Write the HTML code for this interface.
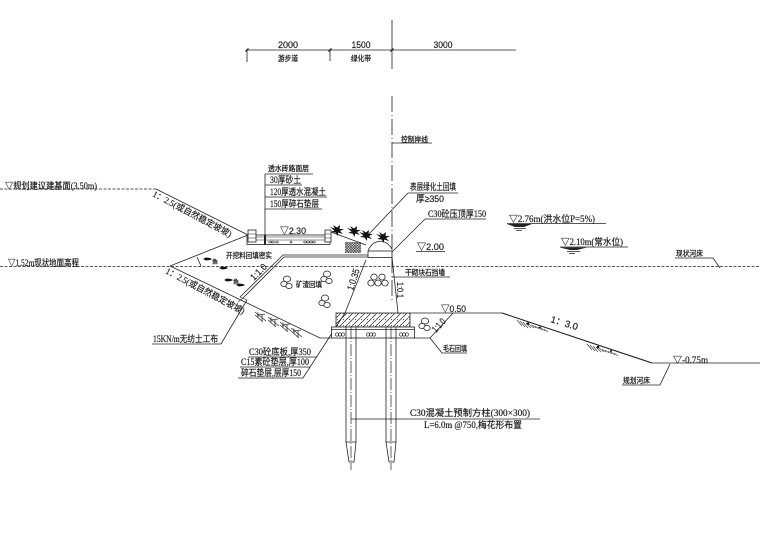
<!DOCTYPE html>
<html><head><meta charset="utf-8"><style>
html,body{margin:0;padding:0;background:#fff}
svg{display:block}
text{font-family:"Liberation Serif","Noto Sans CJK SC",serif;fill:#1a1a1a;font-size:9px;stroke:#1a1a1a;stroke-width:.18}
.c{font-size:7.5px;font-family:"Liberation Sans","Noto Sans CJK SC",sans-serif;stroke-width:.25}
.s{font-family:"Liberation Sans","Noto Sans CJK SC",sans-serif;font-size:9.5px}
</style></head><body>
<svg width="760" height="537" viewBox="0 0 760 537" xmlns="http://www.w3.org/2000/svg">
<defs>
<pattern id="h1" width="6" height="6" patternUnits="userSpaceOnUse"><path d="M0 6L6 0" stroke="#222" stroke-width=".7"/><circle cx="1.500" cy="1.500" r=".5" fill="#222"/></pattern>
<pattern id="h2" width="2.6" height="2.6" patternUnits="userSpaceOnUse"><path d="M0 2.6L2.6 0M0 0L2.6 2.6" stroke="#222" stroke-width=".6"/></pattern>
<g id="pl"><path d="M-7 -3L-2 -1.500L-4 -5L0 -2.500L3 -5L2.500 -1L7 -1L3 1L6 4L1 2.500L1 6L-1.500 2.500L-6 2L-2.500 .5Z" fill="#111"/></g>
<g id="st" fill="#fff" stroke="#222" stroke-width=".8"><ellipse cx="0" cy="-4" rx="3.6" ry="3"/><ellipse cx="-3" cy="1" rx="3.2" ry="2.6"/><ellipse cx="2" cy="3" rx="3.2" ry="2.6"/></g>
<g id="fi"><path d="M-4 0L-1 -1.500L3 -1L5 0L3 1L-1 1.500Z" fill="#111"/></g>
<g id="gr" fill="none" stroke="#333" stroke-width=".8"><path d="M0 0L11 9M0 3L8 10M3 0.500V6M7 3V9M2 3L10 2"/></g>
<g id="rr" fill="none" stroke="#444" stroke-width=".7"><path d="M0 0L5 6M3 1L8 7M6 2L11 8M9 3L14 8M12 4L17 8M15 5L19 8M18 6L22 9M21 7L25 10M24 8L28 11M27 9L31 12"/></g>
</defs>
<g fill="none" stroke="#222" stroke-width=".8">
<!-- dimension -->
<path d="M247 50H516M247 50V62M330 50V61M392 20V69"/>
<path d="M392 96V300" stroke-dasharray="16 3 1 3"/>
<path d="M392 143H432"/>
<path d="M245.500 51.500L248.500 48.500M328.500 51.500L331.500 48.500M390.500 51.500L393.500 48.500" stroke-width="1.300"/>
<!-- ground lines -->
<path d="M0 189H156M0 266.500H760" stroke-dasharray="3 1.500"/>
<path d="M156 189L248 235M170 266L248 235M170 266L320 338H332"/>
<path d="M197 257L201 266"/>
<!-- excavation 1:1 -->
<path d="M240 297L283 255H368M243 298L284 257H368"/>
<path d="M240 297L247 300M243 298L238 302" stroke-width=".6"/>
<!-- walk -->
<rect x="247" y="235" width="83" height="9.500"/>
<path d="M247 237H330M256 240H325" stroke-width=".6"/>
<rect x="248" y="230" width="8" height="12" fill="#fff"/>
<rect x="325" y="230" width="6" height="12" fill="#fff"/>
<path d="M248 234H256M248 238H256M325 234H331M325 238H331" stroke-width=".6"/>
<path d="M265 174V240"/>
<path d="M265 235V245" stroke-width="2"/>
<path d="M265 174H313M265 185H302M265 197H327M265 209H322"/>
<g stroke-width=".6"><ellipse cx="270" cy="242" rx="1.300" ry="1"/><ellipse cx="273" cy="242" rx="1.300" ry="1"/><ellipse cx="277" cy="242" rx="1.300" ry="1"/><ellipse cx="305" cy="242" rx="1.300" ry="1"/><ellipse cx="308" cy="242" rx="1.300" ry="1"/><ellipse cx="311" cy="242" rx="1.300" ry="1"/><ellipse cx="314" cy="242" rx="1.300" ry="1"/><ellipse cx="291" cy="242" rx="1" ry="1"/></g>
<!-- green -->
<path d="M331 232L366 245"/>
<rect x="345" y="242" width="16" height="11" fill="url(#h2)" stroke="none"/>
<path d="M368 251C372 240 385 237 392 249"/>
<!-- cap -->
<rect x="368" y="251" width="24" height="6.500"/>
<path d="M366 260L345 313M392 257L398 313"/>
<!-- leaders -->
<path d="M408 193H458M408 193L368 235M425 219H486M425 219L392 252M416 251.500H445M392 277H450"/>
<path d="M507 223.500H606M560 247H628" />
<path d="M675 258H713L720 268M622 385H660L670 364"/>
<path d="M152 344H221L247 300"/>
<path d="M248 357H317M240 367H310M238 378H303L345 313"/>
<!-- foundation -->
<rect x="336" y="313" width="74" height="14" fill="url(#h1)"/>
<rect x="331.500" y="327" width="83" height="11" fill="#fff"/>
<path d="M331.500 329.500H414.500"/>
<g stroke-width=".6"><ellipse cx="337" cy="334.500" rx="1.500" ry="1.700"/><ellipse cx="340" cy="334.500" rx="1.500" ry="1.700"/><ellipse cx="343" cy="334.500" rx="1.500" ry="1.700"/><ellipse cx="368" cy="334.500" rx="1.500" ry="1.700"/><ellipse cx="371" cy="334.500" rx="1.500" ry="1.700"/><ellipse cx="374" cy="334.500" rx="1.500" ry="1.700"/><ellipse cx="401" cy="334.500" rx="1.500" ry="1.700"/><ellipse cx="404" cy="334.500" rx="1.500" ry="1.700"/><ellipse cx="407" cy="334.500" rx="1.500" ry="1.700"/></g>
<!-- right terrain -->
<path d="M410 313H502L652 363H760M414 338H430L453 313M430 338L442 353H467"/>
<path d="M502 313L652 363" stroke-width="1"/>
<!-- piles -->
<path d="M346 327V442M356 327V442M346 442L349 462H354L356 442M346 442H356M386 327V442M396 327V442M386 442L389 462H394L396 442M386 442H396"/>
<path d="M351 327V470M391 327V470" stroke-dasharray="12 2 1 2" stroke-width=".7"/>
<path d="M351 419H540"/>
</g>
<!-- water marks -->
<g fill="#222"><path d="M507 224H532L524 227H515Z"/><path d="M560 247.500H587L577 250H570Z"/></g>
<g stroke="#222" stroke-width=".7"><path d="M514 228.500H526M516 230.500H522M567 251.500H580M569 253.500H575"/></g>
<!-- hatches -->
<use href="#rr" x="517" y="320"/>
<use href="#rr" x="587" y="344"/>
<g fill="#111"><circle cx="528" cy="323.500" r="1.300"/><circle cx="540" cy="327.500" r="1"/><circle cx="598" cy="347" r="1.300"/><circle cx="611" cy="351" r="1"/></g>
<use href="#gr" x="255" y="312"/><use href="#gr" x="268" y="317"/><use href="#gr" x="280" y="322"/><use href="#gr" x="291" y="328"/>
<!-- plants -->
<use href="#pl" x="337" y="230"/><use href="#pl" x="354" y="231"/><use href="#pl" x="366" y="235"/><use href="#pl" x="383" y="237"/>
<use href="#fi" x="207" y="259"/><use href="#fi" x="223" y="268"/><use href="#fi" x="228" y="280"/><use href="#fi" x="240" y="285"/>
<text class="c" x="212" y="264" style="font-size:6px">鱼</text><text class="c" x="233" y="284" style="font-size:6px">鱼</text>
<use href="#st" x="287" y="283"/><use href="#st" x="327" y="278"/><use href="#st" x="325" y="302"/><use href="#st" x="425" y="325"/>
<g fill="#fff" stroke="#222" stroke-width=".8"><ellipse cx="374" cy="277" rx="3.200" ry="3"/><ellipse cx="382" cy="277" rx="3.200" ry="3"/><ellipse cx="371" cy="283" rx="3.200" ry="3"/><ellipse cx="378" cy="283" rx="3.200" ry="3"/><ellipse cx="385" cy="283" rx="3.200" ry="3"/></g>
<!-- text -->
<text class="s" x="288" y="48" text-anchor="middle" textLength="20" lengthAdjust="spacingAndGlyphs">2000</text>
<text class="s" x="361" y="48" text-anchor="middle" textLength="19" lengthAdjust="spacingAndGlyphs">1500</text>
<text class="s" x="443" y="48" text-anchor="middle" textLength="19" lengthAdjust="spacingAndGlyphs">3000</text>
<text class="c" x="278" y="61" textLength="20" lengthAdjust="spacingAndGlyphs">游步道</text>
<text class="c" x="351" y="61" textLength="20" lengthAdjust="spacingAndGlyphs">绿化带</text>
<text class="c" x="401" y="142" textLength="27" lengthAdjust="spacingAndGlyphs">控制岸线</text>
<text x="5" y="189" textLength="92" lengthAdjust="spacingAndGlyphs">▽规划建议建基面(3.50m)</text>
<text x="8" y="266" textLength="71" lengthAdjust="spacingAndGlyphs">▽1.52m现状地面高程</text>
<text transform="translate(152,196) rotate(28)" textLength="88" lengthAdjust="spacingAndGlyphs">1：2.5(或自然稳定坡坡)</text>
<text transform="translate(165,273) rotate(28)" textLength="88" lengthAdjust="spacingAndGlyphs">1：2.5(或自然稳定坡坡)</text>
<text class="c" x="268" y="171" textLength="41" lengthAdjust="spacingAndGlyphs">透水砖路面层</text>
<text x="270" y="183" textLength="31" lengthAdjust="spacingAndGlyphs">30厚砂土</text>
<text x="270" y="195" textLength="56" lengthAdjust="spacingAndGlyphs">120厚透水混凝土</text>
<text x="270" y="207" textLength="49" lengthAdjust="spacingAndGlyphs">150厚碎石垫层</text>
<text class="s" x="280" y="234" textLength="26" lengthAdjust="spacingAndGlyphs">▽2.30</text>
<text class="c" x="226" y="258" textLength="46" lengthAdjust="spacingAndGlyphs">开挖料回填密实</text>
<text class="c" x="296" y="287" textLength="26" lengthAdjust="spacingAndGlyphs">矿渣回填</text>
<text x="410" y="190" textLength="46" lengthAdjust="spacingAndGlyphs">表层绿化土回填</text>
<text class="s" x="416" y="202" textLength="28" lengthAdjust="spacingAndGlyphs">厚≥350</text>
<text x="428" y="217" textLength="58" lengthAdjust="spacingAndGlyphs">C30砼压顶厚150</text>
<text class="s" x="417" y="250" textLength="27" lengthAdjust="spacingAndGlyphs">▽2.00</text>
<text class="c" x="405" y="275" textLength="40" lengthAdjust="spacingAndGlyphs">干砌块石挡墙</text>
<text x="509" y="222" textLength="86" lengthAdjust="spacingAndGlyphs">▽2.76m(洪水位P=5%)</text>
<text x="561" y="245" textLength="62" lengthAdjust="spacingAndGlyphs">▽2.10m(常水位)</text>
<text class="c" x="676" y="256" textLength="27" lengthAdjust="spacingAndGlyphs">现状河床</text>
<text class="s" x="441" y="312" textLength="25" lengthAdjust="spacingAndGlyphs">▽0.50</text>
<text class="c" x="443" y="351" textLength="24" lengthAdjust="spacingAndGlyphs">毛石回填</text>
<text x="673" y="363" textLength="35" lengthAdjust="spacingAndGlyphs">▽-0.75m</text>
<text class="c" x="623" y="383" textLength="27" lengthAdjust="spacingAndGlyphs">规划河床</text>
<text class="s" transform="translate(550,322) rotate(17)" textLength="28" lengthAdjust="spacing">1：3.0</text>
<text class="s" transform="translate(254,281) rotate(-45)" textLength="19" lengthAdjust="spacingAndGlyphs">1:1.0</text>
<text class="s" transform="translate(353,291) rotate(-72)" textLength="22" lengthAdjust="spacingAndGlyphs">1:0.35</text>
<text class="s" transform="translate(397,282) rotate(90)" textLength="16" lengthAdjust="spacingAndGlyphs">1:0.1</text>
<text class="s" transform="translate(436,333) rotate(-47)" textLength="15" lengthAdjust="spacingAndGlyphs">1:1.0</text>
<text x="153" y="342" textLength="65" lengthAdjust="spacingAndGlyphs">15KN/m无纺土工布</text>
<text x="249" y="355" textLength="62" lengthAdjust="spacingAndGlyphs">C30砼底板,厚350</text>
<text x="241" y="365" textLength="68" lengthAdjust="spacingAndGlyphs">C15素砼垫层,厚100</text>
<text x="241" y="376" textLength="60" lengthAdjust="spacingAndGlyphs">碎石垫层,层厚150</text>
<text x="410" y="416" textLength="120" lengthAdjust="spacingAndGlyphs">C30混凝土预制方柱(300×300)</text>
<text x="424" y="428" textLength="98" lengthAdjust="spacingAndGlyphs">L=6.0m @750,梅花形布置</text>
</svg>
</body></html>
